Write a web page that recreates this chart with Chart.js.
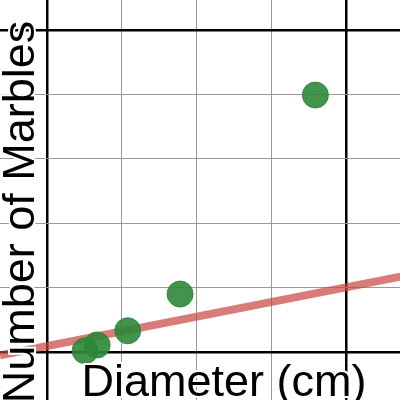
<!DOCTYPE html>
<html>
<head>
<script src="https://cdn.jsdelivr.net/npm/chart.js@4"></script>
<style>
  body { margin: 0; background: #fff; }
  #wrap { width: 400px; height: 400px; }
</style>
</head>
<body>
<div id="wrap"><canvas id="grafico"></canvas></div>
<script>
// marble data
const diametros = [0.51, 0.67, 1.08, 1.78, 3.59];
const canicas = [0.02, 0.11, 0.33, 0.90, 3.99];
const lineaX = [-0.63, 4.73];
const lineaY = [-0.05, 1.17];
const xTicks = [0, 1, 2, 3, 4];
const yTicks = [0, 1, 2, 3, 4, 5];

const etiquetas = {
  id: "etiquetas",
  afterDraw(chart) {
    const c = chart.ctx;
    c.save();
    c.font = "45px 'Liberation Sans'";
    c.fillStyle = "#000";
    c.textAlign = "center";
    c.textBaseline = "alphabetic";
    c.lineWidth = 4;
    c.strokeStyle = "#fff";
    c.strokeText("Diameter (cm)", 224, 396);
    c.fillText("Diameter (cm)", 224, 396);
    c.translate(34, 212);
    c.rotate(-Math.PI / 2);
    c.strokeText("Number of Marbles", 0, 0);
    c.fillText("Number of Marbles", 0, 0);
    c.restore();
  }
};

const ejeGrid = (fuertes) => ({
  color: (ctx) => fuertes.includes(ctx.tick && ctx.tick.value) ? "#000" : "#999",
  lineWidth: (ctx) => fuertes.includes(ctx.tick && ctx.tick.value) ? 2.5 : 1,
  drawTicks: false
});

new Chart(document.getElementById("grafico"), {
  type: "scatter",
  data: {
    datasets: [
      {
        data: diametros.map((x, i) => ({ x: x, y: canicas[i] })),
        backgroundColor: "rgba(45,135,55,0.9)",
        borderColor: "rgba(45,135,55,0.9)",
        pointRadius: 13,
        order: 1
      },
      {
        type: "line",
        data: lineaX.map((x, i) => ({ x: x, y: lineaY[i] })),
        borderColor: "rgba(199,68,64,0.7)",
        borderWidth: 8,
        pointRadius: 0,
        order: 2
      }
    ]
  },
  options: {
    animation: false,
    responsive: true,
    maintainAspectRatio: false,
    layout: { padding: 0, autoPadding: false },
    plugins: { legend: { display: false }, tooltip: { enabled: false } },
    scales: {
      x: {
        type: "linear", min: -0.629, max: 4.722,
        afterBuildTicks: (s) => { s.ticks = xTicks.map(v => ({ value: v })); },
        ticks: { display: false, padding: 0 },
        border: { display: false },
        grid: ejeGrid([0, 4])
      },
      y: {
        type: "linear", min: -0.745, max: 5.466,
        afterBuildTicks: (s) => { s.ticks = yTicks.map(v => ({ value: v })); },
        ticks: { display: false, padding: 0 },
        border: { display: false },
        grid: ejeGrid([0, 5])
      }
    }
  },
  plugins: [etiquetas]
});
</script>
</body>
</html>
